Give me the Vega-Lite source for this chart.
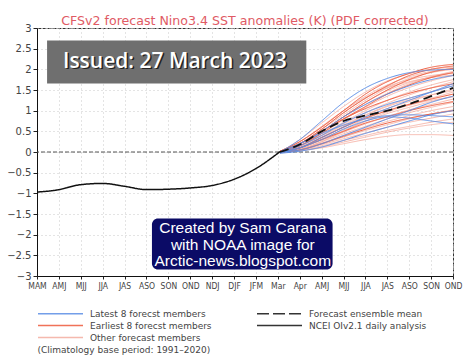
{
"$schema": "https://vega.github.io/schema/vega-lite/v6.json",
"width": 416, "height": 248,
"autosize": {"type": "none"},
"padding": {"left": 37, "top": 28, "right": 21, "bottom": 87},
"background": "white",
"title": {"text": "CFSv2 forecast Nino3.4 SST anomalies (K) (PDF corrected)", "color": "#e05a64", "fontSize": 12.6, "font": "DejaVu Sans", "fontWeight": "normal", "anchor": "middle", "offset": 0, "dy": 5},
"config": {
  "font": "DejaVu Sans",
  "view": {"stroke": "#333", "strokeDash": [4, 1]},
  "legend": {"symbolStrokeWidth": 1.4},
  "axisX": {"labelOverlap": false, "labelFlush": false, "labelFont": "DejaVu Sans Condensed, DejaVu Sans", "labelFontSize": 8.5, "labelColor": "#444", "tickSize": 3, "tickColor": "#222", "domainColor": "#111", "labelPadding": 2, "grid": true, "gridColor": "#c8c8c8", "gridDash": [1, 3]},
  "axisY": {"labelOverlap": false, "labelFont": "DejaVu Sans", "labelFontSize": 10, "labelColor": "#444", "tickSize": 4, "tickColor": "#222", "domainColor": "#111", "labelPadding": 2, "grid": true, "gridColor": "#c8c8c8", "gridDash": [1, 3]}
},
"datasets": {
"obs": [
{"x":0,"y":-0.97},{"x":0.9,"y":-0.92},{"x":2,"y":-0.79},{"x":3,"y":-0.76},{"x":4,"y":-0.83},{"x":5,"y":-0.91},{"x":6,"y":-0.9},{"x":7,"y":-0.87},{"x":8,"y":-0.81},{"x":9,"y":-0.66},{"x":10,"y":-0.4},{"x":11.1,"y":0.01}
],
"mean": [
{"x":11.1,"y":0},{"x":12,"y":0.18},{"x":13,"y":0.5},{"x":14,"y":0.75},{"x":15,"y":0.88},{"x":16,"y":1.0},{"x":17,"y":1.16},{"x":18,"y":1.35},{"x":19,"y":1.55}
],
"blue": [
{"m":"b1","x":11.1,"y":0},{"m":"b1","x":12,"y":0.3},{"m":"b1","x":13,"y":0.75},{"m":"b1","x":14,"y":1.2},{"m":"b1","x":15,"y":1.55},{"m":"b1","x":16,"y":1.78},{"m":"b1","x":17,"y":1.92},{"m":"b1","x":18,"y":1.98},{"m":"b1","x":19,"y":2.0},
{"m":"b2","x":11.1,"y":0},{"m":"b2","x":12,"y":0.2},{"m":"b2","x":13,"y":0.5},{"m":"b2","x":14,"y":0.85},{"m":"b2","x":15,"y":1.15},{"m":"b2","x":16,"y":1.4},{"m":"b2","x":17,"y":1.6},{"m":"b2","x":18,"y":1.75},{"m":"b2","x":19,"y":1.85},
{"m":"b3","x":11.1,"y":-0.02},{"m":"b3","x":12,"y":0.15},{"m":"b3","x":13,"y":0.4},{"m":"b3","x":14,"y":0.7},{"m":"b3","x":15,"y":0.95},{"m":"b3","x":16,"y":1.15},{"m":"b3","x":17,"y":1.3},{"m":"b3","x":18,"y":1.45},{"m":"b3","x":19,"y":1.6},
{"m":"b4","x":11.1,"y":0},{"m":"b4","x":12,"y":0.2},{"m":"b4","x":13,"y":0.45},{"m":"b4","x":14,"y":0.65},{"m":"b4","x":15,"y":0.8},{"m":"b4","x":16,"y":0.88},{"m":"b4","x":17,"y":0.9},{"m":"b4","x":18,"y":0.88},{"m":"b4","x":19,"y":0.85},
{"m":"b5","x":11.1,"y":-0.02},{"m":"b5","x":12,"y":0.1},{"m":"b5","x":13,"y":0.3},{"m":"b5","x":14,"y":0.55},{"m":"b5","x":15,"y":0.75},{"m":"b5","x":16,"y":0.85},{"m":"b5","x":17,"y":0.82},{"m":"b5","x":18,"y":0.75},{"m":"b5","x":19,"y":0.68},
{"m":"b6","x":11.1,"y":0},{"m":"b6","x":12,"y":0.05},{"m":"b6","x":13,"y":0.2},{"m":"b6","x":14,"y":0.4},{"m":"b6","x":15,"y":0.6},{"m":"b6","x":16,"y":0.8},{"m":"b6","x":17,"y":1.0},{"m":"b6","x":18,"y":1.2},{"m":"b6","x":19,"y":1.35},
{"m":"b7","x":11.1,"y":0},{"m":"b7","x":12,"y":0.1},{"m":"b7","x":13,"y":0.35},{"m":"b7","x":14,"y":0.6},{"m":"b7","x":15,"y":0.85},{"m":"b7","x":16,"y":1.05},{"m":"b7","x":17,"y":1.25},{"m":"b7","x":18,"y":1.45},{"m":"b7","x":19,"y":1.65},
{"m":"b8","x":11.1,"y":-0.03},{"m":"b8","x":12,"y":0.02},{"m":"b8","x":13,"y":0.12},{"m":"b8","x":14,"y":0.28},{"m":"b8","x":15,"y":0.45},{"m":"b8","x":16,"y":0.6},{"m":"b8","x":17,"y":0.75},{"m":"b8","x":18,"y":0.9},{"m":"b8","x":19,"y":1.0}
],
"red": [
{"m":"r1","x":11.1,"y":0.02},{"m":"r1","x":12,"y":0.25},{"m":"r1","x":13,"y":0.6},{"m":"r1","x":14,"y":1.0},{"m":"r1","x":15,"y":1.4},{"m":"r1","x":16,"y":1.7},{"m":"r1","x":17,"y":1.9},{"m":"r1","x":18,"y":2.05},{"m":"r1","x":19,"y":2.12},
{"m":"r2","x":11.1,"y":0},{"m":"r2","x":12,"y":0.2},{"m":"r2","x":13,"y":0.55},{"m":"r2","x":14,"y":0.95},{"m":"r2","x":15,"y":1.3},{"m":"r2","x":16,"y":1.6},{"m":"r2","x":17,"y":1.85},{"m":"r2","x":18,"y":2.0},{"m":"r2","x":19,"y":2.08},
{"m":"r3","x":11.1,"y":0},{"m":"r3","x":12,"y":0.2},{"m":"r3","x":13,"y":0.5},{"m":"r3","x":14,"y":0.85},{"m":"r3","x":15,"y":1.2},{"m":"r3","x":16,"y":1.5},{"m":"r3","x":17,"y":1.75},{"m":"r3","x":18,"y":1.93},{"m":"r3","x":19,"y":2.02},
{"m":"r4","x":11.1,"y":0},{"m":"r4","x":12,"y":0.15},{"m":"r4","x":13,"y":0.45},{"m":"r4","x":14,"y":0.8},{"m":"r4","x":15,"y":1.1},{"m":"r4","x":16,"y":1.4},{"m":"r4","x":17,"y":1.62},{"m":"r4","x":18,"y":1.8},{"m":"r4","x":19,"y":1.92},
{"m":"r5","x":11.1,"y":0.02},{"m":"r5","x":12,"y":0.2},{"m":"r5","x":13,"y":0.5},{"m":"r5","x":14,"y":0.8},{"m":"r5","x":15,"y":1.05},{"m":"r5","x":16,"y":1.25},{"m":"r5","x":17,"y":1.42},{"m":"r5","x":18,"y":1.55},{"m":"r5","x":19,"y":1.65},
{"m":"r6","x":11.1,"y":0},{"m":"r6","x":12,"y":0.1},{"m":"r6","x":13,"y":0.35},{"m":"r6","x":14,"y":0.6},{"m":"r6","x":15,"y":0.82},{"m":"r6","x":16,"y":1.0},{"m":"r6","x":17,"y":1.15},{"m":"r6","x":18,"y":1.28},{"m":"r6","x":19,"y":1.4},
{"m":"r7","x":11.1,"y":-0.02},{"m":"r7","x":12,"y":0.1},{"m":"r7","x":13,"y":0.3},{"m":"r7","x":14,"y":0.5},{"m":"r7","x":15,"y":0.7},{"m":"r7","x":16,"y":0.85},{"m":"r7","x":17,"y":1.0},{"m":"r7","x":18,"y":1.12},{"m":"r7","x":19,"y":1.22},
{"m":"r8","x":11.1,"y":0},{"m":"r8","x":12,"y":0.05},{"m":"r8","x":13,"y":0.2},{"m":"r8","x":14,"y":0.38},{"m":"r8","x":15,"y":0.55},{"m":"r8","x":16,"y":0.7},{"m":"r8","x":17,"y":0.82},{"m":"r8","x":18,"y":0.92},{"m":"r8","x":19,"y":1.0}
],
"other": [
{"m":"o1","x":11.1,"y":0},{"m":"o1","x":12,"y":0.3},{"m":"o1","x":13,"y":0.7},{"m":"o1","x":14,"y":1.1},{"m":"o1","x":15,"y":1.45},{"m":"o1","x":16,"y":1.72},{"m":"o1","x":17,"y":1.9},{"m":"o1","x":18,"y":2.0},{"m":"o1","x":19,"y":2.05},
{"m":"o2","x":11.1,"y":0.02},{"m":"o2","x":12,"y":0.25},{"m":"o2","x":13,"y":0.6},{"m":"o2","x":14,"y":1.0},{"m":"o2","x":15,"y":1.35},{"m":"o2","x":16,"y":1.62},{"m":"o2","x":17,"y":1.82},{"m":"o2","x":18,"y":1.95},{"m":"o2","x":19,"y":2.02},
{"m":"o3","x":11.1,"y":0},{"m":"o3","x":12,"y":0.2},{"m":"o3","x":13,"y":0.55},{"m":"o3","x":14,"y":0.9},{"m":"o3","x":15,"y":1.25},{"m":"o3","x":16,"y":1.55},{"m":"o3","x":17,"y":1.78},{"m":"o3","x":18,"y":1.92},{"m":"o3","x":19,"y":2.0},
{"m":"o4","x":11.1,"y":-0.02},{"m":"o4","x":12,"y":0.2},{"m":"o4","x":13,"y":0.5},{"m":"o4","x":14,"y":0.85},{"m":"o4","x":15,"y":1.15},{"m":"o4","x":16,"y":1.42},{"m":"o4","x":17,"y":1.65},{"m":"o4","x":18,"y":1.82},{"m":"o4","x":19,"y":1.95},
{"m":"o5","x":11.1,"y":0},{"m":"o5","x":12,"y":0.18},{"m":"o5","x":13,"y":0.45},{"m":"o5","x":14,"y":0.78},{"m":"o5","x":15,"y":1.08},{"m":"o5","x":16,"y":1.35},{"m":"o5","x":17,"y":1.56},{"m":"o5","x":18,"y":1.72},{"m":"o5","x":19,"y":1.85},
{"m":"o6","x":11.1,"y":0},{"m":"o6","x":12,"y":0.15},{"m":"o6","x":13,"y":0.42},{"m":"o6","x":14,"y":0.72},{"m":"o6","x":15,"y":1.0},{"m":"o6","x":16,"y":1.25},{"m":"o6","x":17,"y":1.45},{"m":"o6","x":18,"y":1.62},{"m":"o6","x":19,"y":1.75},
{"m":"o7","x":11.1,"y":0.02},{"m":"o7","x":12,"y":0.15},{"m":"o7","x":13,"y":0.4},{"m":"o7","x":14,"y":0.68},{"m":"o7","x":15,"y":0.95},{"m":"o7","x":16,"y":1.18},{"m":"o7","x":17,"y":1.38},{"m":"o7","x":18,"y":1.55},{"m":"o7","x":19,"y":1.7},
{"m":"o8","x":11.1,"y":0},{"m":"o8","x":12,"y":0.12},{"m":"o8","x":13,"y":0.38},{"m":"o8","x":14,"y":0.65},{"m":"o8","x":15,"y":0.9},{"m":"o8","x":16,"y":1.12},{"m":"o8","x":17,"y":1.3},{"m":"o8","x":18,"y":1.46},{"m":"o8","x":19,"y":1.6},
{"m":"o9","x":11.1,"y":0},{"m":"o9","x":12,"y":0.12},{"m":"o9","x":13,"y":0.35},{"m":"o9","x":14,"y":0.6},{"m":"o9","x":15,"y":0.85},{"m":"o9","x":16,"y":1.05},{"m":"o9","x":17,"y":1.22},{"m":"o9","x":18,"y":1.38},{"m":"o9","x":19,"y":1.52},
{"m":"o10","x":11.1,"y":-0.02},{"m":"o10","x":12,"y":0.1},{"m":"o10","x":13,"y":0.32},{"m":"o10","x":14,"y":0.56},{"m":"o10","x":15,"y":0.8},{"m":"o10","x":16,"y":1.0},{"m":"o10","x":17,"y":1.16},{"m":"o10","x":18,"y":1.3},{"m":"o10","x":19,"y":1.45},
{"m":"o11","x":11.1,"y":0},{"m":"o11","x":12,"y":0.1},{"m":"o11","x":13,"y":0.3},{"m":"o11","x":14,"y":0.52},{"m":"o11","x":15,"y":0.74},{"m":"o11","x":16,"y":0.93},{"m":"o11","x":17,"y":1.08},{"m":"o11","x":18,"y":1.22},{"m":"o11","x":19,"y":1.35},
{"m":"o12","x":11.1,"y":0},{"m":"o12","x":12,"y":0.1},{"m":"o12","x":13,"y":0.28},{"m":"o12","x":14,"y":0.48},{"m":"o12","x":15,"y":0.68},{"m":"o12","x":16,"y":0.86},{"m":"o12","x":17,"y":1.02},{"m":"o12","x":18,"y":1.15},{"m":"o12","x":19,"y":1.28},
{"m":"o13","x":11.1,"y":0.02},{"m":"o13","x":12,"y":0.08},{"m":"o13","x":13,"y":0.25},{"m":"o13","x":14,"y":0.44},{"m":"o13","x":15,"y":0.62},{"m":"o13","x":16,"y":0.8},{"m":"o13","x":17,"y":0.95},{"m":"o13","x":18,"y":1.08},{"m":"o13","x":19,"y":1.2},
{"m":"o14","x":11.1,"y":0},{"m":"o14","x":12,"y":0.08},{"m":"o14","x":13,"y":0.22},{"m":"o14","x":14,"y":0.4},{"m":"o14","x":15,"y":0.58},{"m":"o14","x":16,"y":0.74},{"m":"o14","x":17,"y":0.88},{"m":"o14","x":18,"y":1.0},{"m":"o14","x":19,"y":1.1},
{"m":"o15","x":11.1,"y":0},{"m":"o15","x":12,"y":0.06},{"m":"o15","x":13,"y":0.2},{"m":"o15","x":14,"y":0.36},{"m":"o15","x":15,"y":0.52},{"m":"o15","x":16,"y":0.66},{"m":"o15","x":17,"y":0.8},{"m":"o15","x":18,"y":0.92},{"m":"o15","x":19,"y":1.02},
{"m":"o16","x":11.1,"y":-0.02},{"m":"o16","x":12,"y":0.05},{"m":"o16","x":13,"y":0.18},{"m":"o16","x":14,"y":0.32},{"m":"o16","x":15,"y":0.46},{"m":"o16","x":16,"y":0.6},{"m":"o16","x":17,"y":0.72},{"m":"o16","x":18,"y":0.82},{"m":"o16","x":19,"y":0.92},
{"m":"o17","x":11.1,"y":0},{"m":"o17","x":12,"y":0.05},{"m":"o17","x":13,"y":0.15},{"m":"o17","x":14,"y":0.28},{"m":"o17","x":15,"y":0.4},{"m":"o17","x":16,"y":0.52},{"m":"o17","x":17,"y":0.62},{"m":"o17","x":18,"y":0.72},{"m":"o17","x":19,"y":0.8},
{"m":"o18","x":11.1,"y":0},{"m":"o18","x":12,"y":0.04},{"m":"o18","x":13,"y":0.12},{"m":"o18","x":14,"y":0.24},{"m":"o18","x":15,"y":0.36},{"m":"o18","x":16,"y":0.48},{"m":"o18","x":17,"y":0.58},{"m":"o18","x":18,"y":0.66},{"m":"o18","x":19,"y":0.72},
{"m":"o19","x":11.1,"y":-0.02},{"m":"o19","x":12,"y":0.03},{"m":"o19","x":13,"y":0.1},{"m":"o19","x":14,"y":0.2},{"m":"o19","x":15,"y":0.3},{"m":"o19","x":16,"y":0.38},{"m":"o19","x":17,"y":0.42},{"m":"o19","x":18,"y":0.42},{"m":"o19","x":19,"y":0.4},
{"m":"o20","x":11.1,"y":0},{"m":"o20","x":12,"y":0.2},{"m":"o20","x":13,"y":0.55},{"m":"o20","x":14,"y":0.95},{"m":"o20","x":15,"y":1.3},{"m":"o20","x":16,"y":1.58},{"m":"o20","x":17,"y":1.75},{"m":"o20","x":18,"y":1.85},{"m":"o20","x":19,"y":1.9},
{"m":"o21","x":11.1,"y":0.02},{"m":"o21","x":12,"y":0.25},{"m":"o21","x":13,"y":0.62},{"m":"o21","x":14,"y":1.0},{"m":"o21","x":15,"y":1.32},{"m":"o21","x":16,"y":1.55},{"m":"o21","x":17,"y":1.7},{"m":"o21","x":18,"y":1.8},{"m":"o21","x":19,"y":1.86},
{"m":"o22","x":11.1,"y":0},{"m":"o22","x":12,"y":0.15},{"m":"o22","x":13,"y":0.48},{"m":"o22","x":14,"y":0.85},{"m":"o22","x":15,"y":1.2},{"m":"o22","x":16,"y":1.48},{"m":"o22","x":17,"y":1.68},{"m":"o22","x":18,"y":1.82},{"m":"o22","x":19,"y":1.92},
{"m":"o23","x":11.1,"y":0},{"m":"o23","x":12,"y":0.1},{"m":"o23","x":13,"y":0.35},{"m":"o23","x":14,"y":0.62},{"m":"o23","x":15,"y":0.88},{"m":"o23","x":16,"y":1.1},{"m":"o23","x":17,"y":1.26},{"m":"o23","x":18,"y":1.38},{"m":"o23","x":19,"y":1.48},
{"m":"o24","x":11.1,"y":0},{"m":"o24","x":12,"y":0.05},{"m":"o24","x":13,"y":0.25},{"m":"o24","x":14,"y":0.5},{"m":"o24","x":15,"y":0.75},{"m":"o24","x":16,"y":0.97},{"m":"o24","x":17,"y":1.13},{"m":"o24","x":18,"y":1.25},{"m":"o24","x":19,"y":1.33}
]
},
"layer": [
{
  "data": {"name": "other"},
  "mark": {"type": "line", "strokeWidth": 1, "interpolate": "monotone", "opacity": 0.85},
  "encoding": {
    "x": {"field": "x", "type": "quantitative",
      "scale": {"domain": [0, 19], "nice": false, "zero": false},
      "axis": {"values": [0,1,2,3,4,5,6,7,8,9,10,11,12,13,14,15,16,17,18,19], "tickCount": 40,
        "labelExpr": "['MAM','AMJ','MJJ','JJA','JAS','ASO','SON','OND','NDJ','DJF','JFM','Mar','Apr','AMJ','MJJ','JJA','JAS','ASO','SON','OND'][round(datum.value)]",
        "labelOverlap": false,
        "title": "(Climatology base period: 1991\u20132020)", "titleFont": "DejaVu Sans", "titleFontSize": 9, "titleFontWeight": "normal", "titleColor": "#444", "titleAnchor": "start", "titleAlign": "left", "titleBaseline": "middle", "titleX": 0, "titleY": 73}},
    "y": {"field": "y", "type": "quantitative",
      "scale": {"domain": [-3, 3], "nice": false, "zero": false},
      "axis": {"values": [-3,-2.5,-2,-1.5,-1,-0.5,0,0.5,1,1.5,2,2.5,3], "tickCount": 26, "format": "~g", "title": null, "labelOverlap": false}},
    "detail": {"field": "m"},
    "color": {"datum": "Other forecast members",
      "scale": {"domain": ["Latest 8 forecst members", "Earliest 8 forecst members", "Other forecast members", "Forecast ensemble mean", "NCEI OIv2.1 daily analysis"], "range": ["#5b8ee6", "#ee5a3c", "#f4ada0", "#111111", "#111111"]},
      "legend": {"orient": "none", "legendX": 0, "legendY": 281, "columns": 2, "direction": "vertical", "symbolType": "stroke", "symbolSize": 2025, "clipHeight": 9, "labelFontSize": 9, "labelColor": "#444", "labelFont": "DejaVu Sans", "columnPadding": 44, "rowPadding": 2, "labelOffset": 6, "title": null, "padding": 0}},
    "strokeDash": {"datum": "Other forecast members",
      "scale": {"domain": ["Latest 8 forecst members", "Earliest 8 forecst members", "Other forecast members", "Forecast ensemble mean", "NCEI OIv2.1 daily analysis"], "range": [[1, 0], [1, 0], [1, 0], [12, 4], [1, 0]]}}
  }
},
{
  "data": {"values": [{}]},
  "mark": {"type": "rule", "color": "#555", "strokeDash": [4, 2], "strokeWidth": 1},
  "encoding": {"y": {"datum": 0, "type": "quantitative"}}
},
{
  "data": {"values": [{}]},
  "mark": {"type": "rect", "color": "#6f6f6f"},
  "encoding": {"x": {"datum": 0.46, "type": "quantitative"}, "x2": {"datum": 12.3}, "y": {"datum": 2.7, "type": "quantitative"}, "y2": {"datum": 1.66}}
},
{
  "data": {"values": [{}]},
  "mark": {"type": "text", "text": "Issued: 27 March 2023", "font": "Open Sans", "fontSize": 21, "fontWeight": 600, "color": "#222", "baseline": "middle", "align": "center", "dx": 1.5, "dy": 1.5},
  "encoding": {"x": {"datum": 6.3, "type": "quantitative"}, "y": {"datum": 2.18, "type": "quantitative"}}
},
{
  "data": {"values": [{}]},
  "mark": {"type": "text", "text": "Issued: 27 March 2023", "font": "Open Sans", "fontSize": 21, "fontWeight": 600, "color": "#ffffff", "baseline": "middle", "align": "center"},
  "encoding": {"x": {"datum": 6.3, "type": "quantitative"}, "y": {"datum": 2.18, "type": "quantitative"}}
},
{
  "data": {"values": [{}]},
  "mark": {"type": "rect", "color": "#0b0b66", "cornerRadius": 6},
  "encoding": {"x": {"datum": 5.25, "type": "quantitative"}, "x2": {"datum": 13.5}, "y": {"datum": -1.61, "type": "quantitative"}, "y2": {"datum": -2.84}}
},
{
  "data": {"values": [{}]},
  "mark": {"type": "text", "text": ["Created by Sam Carana", "with NOAA image for", "Arctic-news.blogspot.com"], "font": "Liberation Sans", "fontSize": 15.5, "lineHeight": 16.5, "color": "#ffffff", "baseline": "middle", "align": "center"},
  "encoding": {"x": {"datum": 9.4, "type": "quantitative"}, "y": {"datum": -1.85, "type": "quantitative"}}
},
{
  "data": {"name": "red"},
  "mark": {"type": "line", "strokeWidth": 1, "interpolate": "monotone"},
  "encoding": {
    "x": {"field": "x", "type": "quantitative"},
    "y": {"field": "y", "type": "quantitative"},
    "detail": {"field": "m"},
    "color": {"datum": "Earliest 8 forecst members"},
    "strokeDash": {"datum": "Earliest 8 forecst members"}
  }
},
{
  "data": {"name": "blue"},
  "mark": {"type": "line", "strokeWidth": 1, "interpolate": "monotone"},
  "encoding": {
    "x": {"field": "x", "type": "quantitative"},
    "y": {"field": "y", "type": "quantitative"},
    "detail": {"field": "m"},
    "color": {"datum": "Latest 8 forecst members"},
    "strokeDash": {"datum": "Latest 8 forecst members"}
  }
},
{
  "data": {"name": "mean"},
  "mark": {"type": "line", "strokeWidth": 1.8, "interpolate": "monotone", "strokeDash": [9, 5]},
  "encoding": {
    "x": {"field": "x", "type": "quantitative"},
    "y": {"field": "y", "type": "quantitative"},
    "color": {"datum": "Forecast ensemble mean"}
  }
},
{
  "data": {"name": "obs"},
  "mark": {"type": "line", "strokeWidth": 1.5, "interpolate": "monotone"},
  "encoding": {
    "x": {"field": "x", "type": "quantitative"},
    "y": {"field": "y", "type": "quantitative"},
    "color": {"datum": "NCEI OIv2.1 daily analysis"},
    "strokeDash": {"datum": "NCEI OIv2.1 daily analysis"}
  }
}
]
}
